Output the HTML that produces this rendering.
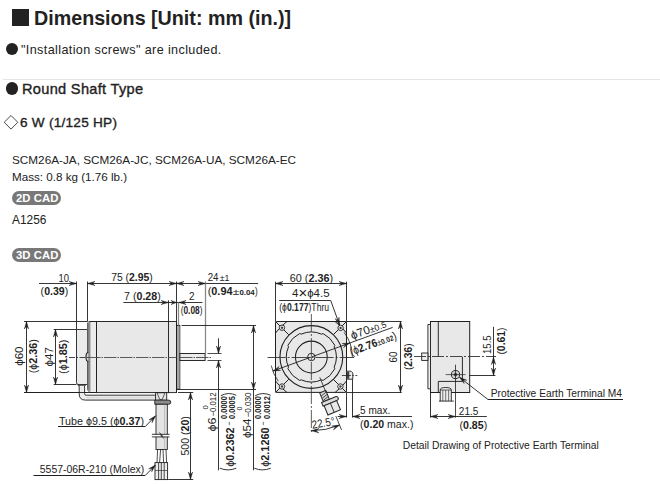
<!DOCTYPE html>
<html><head><meta charset="utf-8">
<style>
html,body{margin:0;padding:0;background:#fff;width:660px;height:486px;overflow:hidden;position:relative;font-family:"Liberation Sans",sans-serif;color:#222;}
.a{position:absolute;white-space:nowrap;line-height:1;}
.badge{position:absolute;width:49px;height:13.6px;border-radius:7px;background:#787878;color:#fff;font-size:11.3px;font-weight:bold;text-align:center;line-height:14.6px;letter-spacing:0.1px;text-indent:1.5px}
svg{position:absolute;left:0;top:0}
svg text{font-family:"Liberation Sans",sans-serif}
</style></head><body>
<div class="a" style="left:12px;top:9px;width:17px;height:17px;background:#222"></div>
<div class="a" style="left:34px;top:8.5px;font-size:19.7px;font-weight:bold;">Dimensions [Unit: mm (in.)]</div>
<div class="a" style="left:6px;top:43px;width:12px;height:12px;border-radius:50%;background:#222"></div>
<div class="a" style="left:21px;top:43.5px;font-size:12.6px;letter-spacing:0.38px">"Installation screws" are included.</div>
<div class="a" style="left:3px;top:79px;width:657px;height:1px;background:#e4e4e4"></div>
<div class="a" style="left:5.5px;top:82px;width:12.5px;height:12.5px;border-radius:50%;background:#222"></div>
<div class="a" style="left:22px;top:81.5px;font-size:14.6px;letter-spacing:0.3px;-webkit-text-stroke:0.35px #222">Round Shaft Type</div>
<div class="a" style="left:20px;top:116px;font-size:13.6px;letter-spacing:0.25px;-webkit-text-stroke:0.35px #222">6 W (1/125 HP)</div>
<div class="a" style="left:12px;top:154.4px;font-size:11.75px;">SCM26A-JA, SCM26A-JC, SCM26A-UA, SCM26A-EC</div>
<div class="a" style="left:12px;top:171px;font-size:11.65px;">Mass: 0.8 kg (1.76 lb.)</div>
<div class="badge" style="left:12px;top:191px;">2D CAD</div>
<div class="a" style="left:12px;top:215px;font-size:11.9px;">A1256</div>
<div class="badge" style="left:12px;top:248.2px;">3D CAD</div>
<svg width="660" height="486" viewBox="0 0 660 486">
<path d="M11 115.5 L17.8 122.3 L11 129.1 L4.2 122.3 Z" fill="none" stroke="#333" stroke-width="0.9"/>
<path d="M76.5 329.5 L87.5 329.5 L87.5 384.5 L78.2 384.5 Q76.5 384.5 76.5 382.6 Z" fill="#ebebeb" stroke="#1f1f1f" stroke-width="0.9" />
<path d="M87.5 322.8 L89 321.5 L96.5 321.5 L96.5 392.5 L89.6 392.5 L87.5 389.8 Z" fill="#ececec" stroke="#555" stroke-width="0.9" />
<line x1="89.00" y1="321.50" x2="96.50" y2="321.50" stroke="#1f1f1f" stroke-width="1.0" />
<line x1="89.60" y1="392.50" x2="96.50" y2="392.50" stroke="#1f1f1f" stroke-width="1.0" />
<line x1="96.50" y1="321.50" x2="96.50" y2="392.50" stroke="#1f1f1f" stroke-width="1.0" />
<defs><linearGradient id="fg" x1="0" x2="1" y1="0" y2="0"><stop offset="0" stop-color="#6a6a6a"/><stop offset="1" stop-color="#a8a8a8"/></linearGradient></defs>
<path d="M88.1 323.2 L89.3 321.8 L90.6 321.8 L90.6 391.8 L89.8 391.8 L88.1 389.6 Z" fill="url(#fg)"/>
<rect x="96.5" y="321.5" width="72.2" height="71.1" fill="#e8e8e8" stroke="#1f1f1f" stroke-width="0.95" rx="0"/>
<rect x="168.5" y="321.5" width="8.0" height="71.1" fill="#e9e9e9" stroke="#1f1f1f" stroke-width="0.9" rx="0"/>
<rect x="176.5" y="325.4" width="3.4" height="63.6" fill="#a4a4a4" stroke="#555" stroke-width="0.9" rx="0"/>
<line x1="176.50" y1="325.40" x2="180.00" y2="325.40" stroke="#1f1f1f" stroke-width="1.0" />
<line x1="176.50" y1="389.50" x2="180.00" y2="389.50" stroke="#1f1f1f" stroke-width="1.0" />
<line x1="176.50" y1="321.50" x2="176.50" y2="392.50" stroke="#1f1f1f" stroke-width="1.0" />
<rect x="179.9" y="353.5" width="25.2" height="7.0" fill="#ececec" stroke="#1f1f1f" stroke-width="0.95" rx="0"/>
<path d="M88.3 352.5 Q86.0 352.5 86.0 357 Q86.0 361.5 88.3 361.5" fill="#d8d8d8" stroke="#1f1f1f" stroke-width="1.1" />
<line x1="69.00" y1="357.50" x2="88.00" y2="357.50" stroke="#333" stroke-width="0.9" stroke-dasharray="6 1.5 1.5 1.5"/>
<line x1="88.00" y1="357.50" x2="176.50" y2="357.50" stroke="#4a4a4a" stroke-width="0.9" stroke-dasharray="12.5 1 1.5 1"/>
<line x1="180.00" y1="357.50" x2="212.00" y2="357.50" stroke="#4a4a4a" stroke-width="0.9" stroke-dasharray="12.5 1 1.5 1"/>
<line x1="39.00" y1="283.50" x2="76.50" y2="283.50" stroke="#1f1f1f" stroke-width="0.9" />
<line x1="87.50" y1="283.50" x2="258.10" y2="283.50" stroke="#1f1f1f" stroke-width="0.9" />
<line x1="76.50" y1="281.50" x2="76.50" y2="329.50" stroke="#1f1f1f" stroke-width="0.9" />
<line x1="87.50" y1="281.50" x2="87.50" y2="321.50" stroke="#1f1f1f" stroke-width="0.9" />
<line x1="176.50" y1="281.50" x2="176.50" y2="321.50" stroke="#1f1f1f" stroke-width="0.9" />
<line x1="205.50" y1="281.50" x2="205.50" y2="353.50" stroke="#8a8a8a" stroke-width="1.3" />
<path d="M76.50 283.50 L69.00 285.60 L72.00 283.50 L69.00 281.40 Z" fill="#1f1f1f" stroke="#1f1f1f" stroke-width="0.45"/>
<path d="M87.50 283.50 L95.00 281.40 L92.00 283.50 L95.00 285.60 Z" fill="#1f1f1f" stroke="#1f1f1f" stroke-width="0.45"/>
<path d="M176.50 283.50 L169.00 285.60 L172.00 283.50 L169.00 281.40 Z" fill="#1f1f1f" stroke="#1f1f1f" stroke-width="0.45"/>
<path d="M176.50 283.50 L184.00 281.40 L181.00 283.50 L184.00 285.60 Z" fill="#1f1f1f" stroke="#1f1f1f" stroke-width="0.45"/>
<path d="M205.50 283.50 L198.00 285.60 L201.00 283.50 L198.00 281.40 Z" fill="#1f1f1f" stroke="#1f1f1f" stroke-width="0.45"/>
<text x="58.4" y="281.5" font-size="11.5" font-weight="normal" fill="#222222" textLength="10.50" lengthAdjust="spacingAndGlyphs">10</text>
<text x="40.6" y="294.8" font-size="11.5" font-weight="normal" fill="#222222" textLength="27.60" lengthAdjust="spacingAndGlyphs">(<tspan font-weight="bold">0.39</tspan>)</text>
<text x="111.2" y="281.3" font-size="11.5" font-weight="normal" fill="#222222" textLength="41.50" lengthAdjust="spacingAndGlyphs">75 (<tspan font-weight="bold">2.95</tspan>)</text>
<text x="207.7" y="281.3" font-size="11.5" font-weight="normal" fill="#222222" textLength="10.80" lengthAdjust="spacingAndGlyphs">24</text>
<text x="219.7" y="281.3" font-size="8.5" font-weight="normal" fill="#222222" textLength="9.70" lengthAdjust="spacingAndGlyphs">±1</text>
<text x="207.7" y="295.1" font-size="11.5" font-weight="normal" fill="#222222" textLength="24.80" lengthAdjust="spacingAndGlyphs">(<tspan font-weight="bold">0.94</tspan></text>
<text x="232.7" y="295.1" font-size="8.5" font-weight="normal" fill="#222222" textLength="6.50" lengthAdjust="spacingAndGlyphs">±</text>
<text x="239.4" y="295.1" font-size="7.5" font-weight="normal" fill="#222222" textLength="15.30" lengthAdjust="spacingAndGlyphs"><tspan font-weight="bold">0.04</tspan></text>
<text x="254.9" y="295.1" font-size="11.5" font-weight="normal" fill="#222222" textLength="2.70" lengthAdjust="spacingAndGlyphs">)</text>
<line x1="123.40" y1="302.50" x2="202.50" y2="302.50" stroke="#1f1f1f" stroke-width="0.9" />
<line x1="168.50" y1="300.30" x2="168.50" y2="321.50" stroke="#1f1f1f" stroke-width="0.9" />
<line x1="178.50" y1="302.50" x2="178.50" y2="325.50" stroke="#8a8a8a" stroke-width="1.3" />
<path d="M168.50 302.50 L161.00 304.60 L164.00 302.50 L161.00 300.40 Z" fill="#1f1f1f" stroke="#1f1f1f" stroke-width="0.45"/>
<path d="M176.50 302.50 L171.00 304.60 L173.20 302.50 L171.00 300.40 Z" fill="#1f1f1f" stroke="#1f1f1f" stroke-width="0.45"/>
<path d="M178.60 302.50 L186.10 300.40 L183.10 302.50 L186.10 304.60 Z" fill="#1f1f1f" stroke="#1f1f1f" stroke-width="0.45"/>
<text x="124.1" y="300.3" font-size="11.5" font-weight="normal" fill="#222222" textLength="36.60" lengthAdjust="spacingAndGlyphs">7 (<tspan font-weight="bold">0.28</tspan>)</text>
<text x="188.9" y="300.3" font-size="11.5" font-weight="normal" fill="#222222" textLength="5.50" lengthAdjust="spacingAndGlyphs">2</text>
<text x="180.7" y="314.0" font-size="11.5" font-weight="normal" fill="#222222" textLength="21.80" lengthAdjust="spacingAndGlyphs">(<tspan font-weight="bold">0.08</tspan>)</text>
<line x1="24.00" y1="321.50" x2="87.50" y2="321.50" stroke="#1f1f1f" stroke-width="0.9" />
<line x1="53.70" y1="329.50" x2="76.50" y2="329.50" stroke="#1f1f1f" stroke-width="0.9" />
<line x1="24.00" y1="392.50" x2="87.50" y2="392.50" stroke="#1f1f1f" stroke-width="0.9" />
<line x1="53.70" y1="384.50" x2="76.50" y2="384.50" stroke="#1f1f1f" stroke-width="0.9" />
<line x1="26.50" y1="321.50" x2="26.50" y2="392.50" stroke="#1f1f1f" stroke-width="0.9" />
<path d="M26.50 321.50 L28.60 329.00 L26.50 326.00 L24.40 329.00 Z" fill="#1f1f1f" stroke="#1f1f1f" stroke-width="0.45"/>
<path d="M26.50 392.50 L24.40 385.00 L26.50 388.00 L28.60 385.00 Z" fill="#1f1f1f" stroke="#1f1f1f" stroke-width="0.45"/>
<line x1="55.50" y1="329.50" x2="55.50" y2="384.50" stroke="#1f1f1f" stroke-width="0.9" />
<path d="M55.50 329.50 L57.60 337.00 L55.50 334.00 L53.40 337.00 Z" fill="#1f1f1f" stroke="#1f1f1f" stroke-width="0.45"/>
<path d="M55.50 384.50 L53.40 377.00 L55.50 380.00 L57.60 377.00 Z" fill="#1f1f1f" stroke="#1f1f1f" stroke-width="0.45"/>
<text transform="translate(23.4,365.8) rotate(-90)" x="0" y="0" font-size="11.5" font-weight="normal" fill="#222222" textLength="19.30" lengthAdjust="spacingAndGlyphs">ϕ60</text>
<text transform="translate(36.9,373.3) rotate(-90)" x="0" y="0" font-size="11.5" font-weight="normal" fill="#222222" textLength="34.20" lengthAdjust="spacingAndGlyphs">(ϕ<tspan font-weight="bold">2.36</tspan>)</text>
<text transform="translate(52.8,366.4) rotate(-90)" x="0" y="0" font-size="11.5" font-weight="normal" fill="#222222" textLength="19.30" lengthAdjust="spacingAndGlyphs">ϕ47</text>
<text transform="translate(66.9,373.9) rotate(-90)" x="0" y="0" font-size="11.5" font-weight="normal" fill="#222222" textLength="34.30" lengthAdjust="spacingAndGlyphs">(ϕ<tspan font-weight="bold">1.85</tspan>)</text>
<line x1="207.50" y1="353.50" x2="221.50" y2="353.50" stroke="#1f1f1f" stroke-width="0.8" />
<line x1="207.50" y1="360.50" x2="221.50" y2="360.50" stroke="#1f1f1f" stroke-width="0.8" />
<line x1="218.50" y1="338.30" x2="218.50" y2="353.50" stroke="#1f1f1f" stroke-width="0.9" />
<path d="M218.50 353.50 L216.40 346.00 L218.50 349.00 L220.60 346.00 Z" fill="#1f1f1f" stroke="#1f1f1f" stroke-width="0.45"/>
<line x1="218.50" y1="360.50" x2="218.50" y2="470.30" stroke="#1f1f1f" stroke-width="0.9" />
<path d="M218.50 360.50 L220.60 368.00 L218.50 365.00 L216.40 368.00 Z" fill="#1f1f1f" stroke="#1f1f1f" stroke-width="0.45"/>
<line x1="181.60" y1="325.50" x2="256.00" y2="325.50" stroke="#1f1f1f" stroke-width="0.9" />
<line x1="179.90" y1="389.50" x2="256.00" y2="389.50" stroke="#1f1f1f" stroke-width="0.9" />
<line x1="253.50" y1="325.50" x2="253.50" y2="470.30" stroke="#1f1f1f" stroke-width="0.9" />
<path d="M253.50 325.50 L255.60 333.00 L253.50 330.00 L251.40 333.00 Z" fill="#1f1f1f" stroke="#1f1f1f" stroke-width="0.45"/>
<path d="M253.50 389.50 L251.40 382.00 L253.50 385.00 L255.60 382.00 Z" fill="#1f1f1f" stroke="#1f1f1f" stroke-width="0.45"/>
<rect x="77.8" y="384.5" width="7.9" height="1.4" fill="#333"/>
<path d="M79.2 385.8 L79.2 394 Q79.2 400.1 85.4 400.1 L156.4 400.1 L156.4 395.2 L86.2 395.2 Q84.6 395.2 84.6 393.6 L84.6 385.8" fill="#ececec" stroke="#1f1f1f" stroke-width="0.9" />
<line x1="86.00" y1="397.70" x2="156.00" y2="397.70" stroke="#c4c4c4" stroke-width="0.5" />
<line x1="24.00" y1="392.50" x2="90.00" y2="392.50" stroke="#1f1f1f" stroke-width="0.9" />
<rect x="155.6" y="392.5" width="11.1" height="7.8" fill="#e6e6e6" stroke="#1f1f1f" stroke-width="0.9" rx="0"/>
<path d="M157 392.8 L165 392.8 L162.2 399.6 L159.8 399.6 Z" fill="none" stroke="#1f1f1f" stroke-width="0.7" />
<path d="M154.8 400.1 L168.5 400.1 Q170.8 400.1 170.8 402.2 Q170.8 404.3 168.5 404.3 L154.8 404.3 Z" fill="#8a8a8a" stroke="#1f1f1f" stroke-width="0.9" />
<rect x="156" y="404.3" width="11.3" height="45.2" fill="#e4e4e4" stroke="#1f1f1f" stroke-width="0.9" rx="0"/>
<line x1="164.70" y1="404.30" x2="164.70" y2="449.50" stroke="#9a9a9a" stroke-width="0.6" />
<rect x="151" y="434.4" width="19.5" height="2.5" fill="#fff"/>
<line x1="151.90" y1="434.30" x2="169.50" y2="434.30" stroke="#1f1f1f" stroke-width="0.9" />
<line x1="151.90" y1="436.90" x2="169.50" y2="436.90" stroke="#1f1f1f" stroke-width="0.9" />
<path d="M159.4 432.5 L162.4 436 L160.8 435.6 L163.8 438.2" fill="none" stroke="#1f1f1f" stroke-width="0.9" />
<path d="M157.6 449.5 L157 462.6 M160.6 449.5 L159.6 462.6 M163 449.5 L163.6 462.6 M166 449.5 L166.6 462.6" fill="none" stroke="#1f1f1f" stroke-width="0.8" />
<rect x="155" y="462.6" width="12.6" height="17" fill="#eeeeee" stroke="#1f1f1f" stroke-width="0.9" rx="0"/>
<line x1="158.60" y1="462.60" x2="158.60" y2="479.60" stroke="#1f1f1f" stroke-width="0.8" />
<line x1="161.30" y1="462.60" x2="161.30" y2="479.60" stroke="#1f1f1f" stroke-width="0.8" />
<line x1="164.20" y1="462.60" x2="164.20" y2="479.60" stroke="#1f1f1f" stroke-width="0.8" />
<line x1="155.00" y1="470.50" x2="167.60" y2="470.50" stroke="#1f1f1f" stroke-width="0.6" />
<line x1="178.00" y1="392.50" x2="193.20" y2="392.50" stroke="#1f1f1f" stroke-width="0.9" />
<line x1="168.20" y1="479.50" x2="193.20" y2="479.50" stroke="#1f1f1f" stroke-width="0.9" />
<line x1="190.50" y1="392.50" x2="190.50" y2="479.50" stroke="#1f1f1f" stroke-width="0.9" />
<path d="M190.50 392.50 L192.60 400.00 L190.50 397.00 L188.40 400.00 Z" fill="#1f1f1f" stroke="#1f1f1f" stroke-width="0.45"/>
<path d="M190.50 479.50 L188.40 472.00 L190.50 475.00 L192.60 472.00 Z" fill="#1f1f1f" stroke="#1f1f1f" stroke-width="0.45"/>
<text transform="translate(188.5,455.5) rotate(-90)" x="0" y="0" font-size="11.5" font-weight="normal" fill="#222222" textLength="39.30" lengthAdjust="spacingAndGlyphs">500 (<tspan font-weight="bold">20</tspan>)</text>
<text transform="translate(215.8,431.6) rotate(-90)" x="0" y="0" font-size="11.5" font-weight="normal" fill="#222222" textLength="14.00" lengthAdjust="spacingAndGlyphs">ϕ6</text>
<text transform="translate(216.3,416.6) rotate(-90)" x="0" y="0" font-size="8.8" font-weight="normal" fill="#222222" textLength="24.10" lengthAdjust="spacingAndGlyphs">−0.012</text>
<text transform="translate(208.4,409.4) rotate(-90)" x="0" y="0" font-size="7.5" font-weight="normal" fill="#222222" textLength="4.20" lengthAdjust="spacingAndGlyphs">0</text>
<text transform="translate(234.2,466.8) rotate(-90)" x="0" y="0" font-size="11.5" font-weight="normal" fill="#222222" textLength="39.40" lengthAdjust="spacingAndGlyphs">ϕ<tspan font-weight="bold">0.2362</tspan></text>
<text transform="translate(232.0,425.6) rotate(-90)" x="0" y="0" font-size="9" font-weight="normal" fill="#222222" textLength="4.00" lengthAdjust="spacingAndGlyphs">−</text>
<text transform="translate(226.7,418.9) rotate(-90)" x="0" y="0" font-size="8.2" font-weight="normal" fill="#222222" textLength="22.70" lengthAdjust="spacingAndGlyphs"><tspan font-weight="bold">0.0000</tspan></text>
<text transform="translate(234.9,418.9) rotate(-90)" x="0" y="0" font-size="8.2" font-weight="normal" fill="#222222" textLength="22.70" lengthAdjust="spacingAndGlyphs"><tspan font-weight="bold">0.0005</tspan></text>
<path d="M219.9 468.2 Q228 471.6 236.3 468.2" fill="none" stroke="#1f1f1f" stroke-width="0.9" />
<path d="M220.8 395.7 Q228.5 391.6 236.3 395.3" fill="none" stroke="#1f1f1f" stroke-width="0.9" />
<text transform="translate(250.6,438.0) rotate(-90)" x="0" y="0" font-size="11.5" font-weight="normal" fill="#222222" textLength="19.40" lengthAdjust="spacingAndGlyphs">ϕ54</text>
<text transform="translate(251.3,417.6) rotate(-90)" x="0" y="0" font-size="8.8" font-weight="normal" fill="#222222" textLength="25.10" lengthAdjust="spacingAndGlyphs">−0.030</text>
<text transform="translate(241.7,410.4) rotate(-90)" x="0" y="0" font-size="7.5" font-weight="normal" fill="#222222" textLength="3.90" lengthAdjust="spacingAndGlyphs">0</text>
<text transform="translate(268.6,466.8) rotate(-90)" x="0" y="0" font-size="11.5" font-weight="normal" fill="#222222" textLength="39.40" lengthAdjust="spacingAndGlyphs">ϕ<tspan font-weight="bold">2.1260</tspan></text>
<text transform="translate(266.4,425.6) rotate(-90)" x="0" y="0" font-size="9" font-weight="normal" fill="#222222" textLength="4.00" lengthAdjust="spacingAndGlyphs">−</text>
<text transform="translate(261.3,418.9) rotate(-90)" x="0" y="0" font-size="8.2" font-weight="normal" fill="#222222" textLength="22.70" lengthAdjust="spacingAndGlyphs"><tspan font-weight="bold">0.0000</tspan></text>
<text transform="translate(269.5,418.9) rotate(-90)" x="0" y="0" font-size="8.2" font-weight="normal" fill="#222222" textLength="22.70" lengthAdjust="spacingAndGlyphs"><tspan font-weight="bold">0.0012</tspan></text>
<path d="M254.3 468.2 Q262.4 471.6 270.7 468.2" fill="none" stroke="#1f1f1f" stroke-width="0.9" />
<path d="M255.2 395.7 Q262.9 391.6 270.7 395.3" fill="none" stroke="#1f1f1f" stroke-width="0.9" />
<line x1="58.00" y1="426.50" x2="145.30" y2="426.50" stroke="#1f1f1f" stroke-width="1.1" />
<line x1="145.30" y1="426.50" x2="155.60" y2="415.80" stroke="#1f1f1f" stroke-width="0.9" />
<path d="M155.60 415.80 L152.02 422.72 L152.53 419.09 L148.95 419.85 Z" fill="#1f1f1f" stroke="#1f1f1f" stroke-width="0.45"/>
<text x="58.9" y="424.5" font-size="11.5" font-weight="normal" fill="#222222" textLength="85.10" lengthAdjust="spacingAndGlyphs">Tube ϕ9.5 (ϕ<tspan font-weight="bold">0.37</tspan>)</text>
<line x1="33.50" y1="475.50" x2="145.20" y2="475.50" stroke="#1f1f1f" stroke-width="1.1" />
<line x1="145.20" y1="475.50" x2="155.50" y2="465.00" stroke="#1f1f1f" stroke-width="0.9" />
<path d="M155.50 465.00 L151.68 471.79 L152.32 468.18 L148.71 468.82 Z" fill="#1f1f1f" stroke="#1f1f1f" stroke-width="0.45"/>
<text x="39.8" y="472.7" font-size="11.5" font-weight="normal" fill="#222222" textLength="104.40" lengthAdjust="spacingAndGlyphs">5557-06R-210 (Molex)</text>
<rect x="275.5" y="321.5" width="71.0" height="70.9" fill="#e8e8e8" stroke="#1f1f1f" stroke-width="1.0" rx="1.5"/>
<circle cx="311.35" cy="357.00" r="31.4" fill="none" stroke="#1f1f1f" stroke-width="1.1"/>
<path d="M301.18 334.16 A25.0 25.0 0 0 1 321.52 334.16 L323.04 333.55 A26.2 26.2 0 0 1 334.80 345.31 L334.19 346.83 A25.0 25.0 0 0 1 334.19 367.17 L334.80 368.69 A26.2 26.2 0 0 1 323.04 380.45 L321.52 379.84 A25.0 25.0 0 0 1 301.18 379.84 L299.66 380.45 A26.2 26.2 0 0 1 287.90 368.69 L288.51 367.17 A25.0 25.0 0 0 1 288.51 346.83 L287.90 345.31 A26.2 26.2 0 0 1 299.66 333.55 L301.18 334.16 Z" fill="none" stroke="#1f1f1f" stroke-width="1.0" />
<circle cx="311.35" cy="357.00" r="15.9" fill="none" stroke="#1f1f1f" stroke-width="1.05"/>
<circle cx="311.35" cy="357.00" r="3.7" fill="#f0f0f0" stroke="#1f1f1f" stroke-width="0.95"/>
<line x1="275.50" y1="321.50" x2="288.80" y2="334.80" stroke="#1f1f1f" stroke-width="1.0" />
<path d="M287.00 321.50 Q280.50 326.50 275.50 333.00" fill="none" stroke="#1f1f1f" stroke-width="1.0" />
<circle cx="282.00" cy="327.70" r="2.7" fill="#eeeeee" stroke="#333" stroke-width="1.0"/>
<circle cx="282.00" cy="327.70" r="1.0" fill="#333" stroke="#1f1f1f" stroke-width="0.3"/>
<line x1="346.50" y1="321.50" x2="333.20" y2="334.80" stroke="#1f1f1f" stroke-width="1.0" />
<path d="M335.00 321.50 Q341.50 326.50 346.50 333.00" fill="none" stroke="#1f1f1f" stroke-width="1.0" />
<circle cx="340.60" cy="327.90" r="2.7" fill="#eeeeee" stroke="#333" stroke-width="1.0"/>
<circle cx="340.60" cy="327.90" r="1.0" fill="#333" stroke="#1f1f1f" stroke-width="0.3"/>
<line x1="275.50" y1="392.50" x2="288.80" y2="379.20" stroke="#1f1f1f" stroke-width="1.0" />
<path d="M287.00 392.50 Q280.50 387.50 275.50 381.00" fill="none" stroke="#1f1f1f" stroke-width="1.0" />
<circle cx="282.00" cy="386.50" r="2.7" fill="#eeeeee" stroke="#333" stroke-width="1.0"/>
<circle cx="282.00" cy="386.50" r="1.0" fill="#333" stroke="#1f1f1f" stroke-width="0.3"/>
<line x1="346.50" y1="392.50" x2="333.20" y2="379.20" stroke="#1f1f1f" stroke-width="1.0" />
<path d="M335.00 392.50 Q341.50 387.50 346.50 381.00" fill="none" stroke="#1f1f1f" stroke-width="1.0" />
<circle cx="340.40" cy="386.50" r="2.7" fill="#eeeeee" stroke="#333" stroke-width="1.0"/>
<circle cx="340.40" cy="386.50" r="1.0" fill="#333" stroke="#1f1f1f" stroke-width="0.3"/>
<line x1="311.35" y1="314.00" x2="311.35" y2="432.40" stroke="#333" stroke-width="0.8" stroke-dasharray="18 2 2 2"/>
<line x1="267.60" y1="357.50" x2="354.10" y2="357.50" stroke="#333" stroke-width="0.9" stroke-dasharray="18 2 2 2"/>
<line x1="275.50" y1="281.70" x2="275.50" y2="321.50" stroke="#1f1f1f" stroke-width="0.9" />
<line x1="346.50" y1="281.70" x2="346.50" y2="321.50" stroke="#1f1f1f" stroke-width="0.9" />
<line x1="275.50" y1="283.50" x2="346.50" y2="283.50" stroke="#1f1f1f" stroke-width="0.9" />
<path d="M275.50 283.50 L283.00 281.40 L280.00 283.50 L283.00 285.60 Z" fill="#1f1f1f" stroke="#1f1f1f" stroke-width="0.45"/>
<path d="M346.50 283.50 L339.00 285.60 L342.00 283.50 L339.00 281.40 Z" fill="#1f1f1f" stroke="#1f1f1f" stroke-width="0.45"/>
<text x="289.8" y="281.6" font-size="11.5" font-weight="normal" fill="#222222" textLength="43.30" lengthAdjust="spacingAndGlyphs">60 (<tspan font-weight="bold">2.36</tspan>)</text>
<text x="292.0" y="297.2" font-size="11.5" font-weight="normal" fill="#222222" textLength="37.60" lengthAdjust="spacingAndGlyphs">4<tspan font-size="15" dy="0.8">×</tspan><tspan dy="-0.8">ϕ4.5</tspan></text>
<text x="279.2" y="311.0" font-size="11.5" font-weight="normal" fill="#222222" textLength="49.90" lengthAdjust="spacingAndGlyphs">(ϕ<tspan font-weight="bold">0.177</tspan>)Thru</text>
<line x1="279.20" y1="300.50" x2="330.70" y2="300.50" stroke="#1f1f1f" stroke-width="0.9" />
<line x1="330.70" y1="300.50" x2="339.60" y2="325.00" stroke="#1f1f1f" stroke-width="0.9" />
<path d="M339.60 325.00 L335.11 318.64 L338.09 320.76 L339.06 317.23 Z" fill="#1f1f1f" stroke="#1f1f1f" stroke-width="0.45"/>
<line x1="346.50" y1="321.50" x2="401.70" y2="321.50" stroke="#1f1f1f" stroke-width="0.9" />
<line x1="346.50" y1="392.50" x2="401.70" y2="392.50" stroke="#1f1f1f" stroke-width="0.9" />
<line x1="400.50" y1="321.50" x2="400.50" y2="392.50" stroke="#1f1f1f" stroke-width="0.9" />
<path d="M400.50 321.50 L402.60 329.00 L400.50 326.00 L398.40 329.00 Z" fill="#1f1f1f" stroke="#1f1f1f" stroke-width="0.45"/>
<path d="M400.50 392.50 L398.40 385.00 L400.50 388.00 L402.60 385.00 Z" fill="#1f1f1f" stroke="#1f1f1f" stroke-width="0.45"/>
<text transform="translate(397.0,362.4) rotate(-90)" x="0" y="0" font-size="11.5" font-weight="normal" fill="#222222" textLength="10.80" lengthAdjust="spacingAndGlyphs">60</text>
<text transform="translate(411.6,370.1) rotate(-90)" x="0" y="0" font-size="11.5" font-weight="normal" fill="#222222" textLength="26.70" lengthAdjust="spacingAndGlyphs">(<tspan font-weight="bold">2.36</tspan>)</text>
<line x1="272.82" y1="371.02" x2="392.63" y2="327.42" stroke="#1f1f1f" stroke-width="0.9" />
<path d="M272.82 371.02 L279.15 366.48 L277.05 369.48 L280.59 370.43 Z" fill="#1f1f1f" stroke="#1f1f1f" stroke-width="0.45"/>
<path d="M349.88 342.98 L343.55 347.52 L345.65 344.52 L342.11 343.57 Z" fill="#1f1f1f" stroke="#1f1f1f" stroke-width="0.45"/>
<path d="M344.09 332.33 A41.0 41.0 0 0 1 352.35 357.00" fill="none" stroke="#1f1f1f" stroke-width="0.8" />
<path d="M278.18 381.10 A41.0 41.0 0 0 1 271.25 365.52" fill="none" stroke="#1f1f1f" stroke-width="0.8" />
<text transform="translate(352.30,339.60) rotate(-20.0)" x="0" y="0" font-size="11.5" font-weight="normal" fill="#222222" textLength="37" lengthAdjust="spacingAndGlyphs">ϕ70<tspan font-size="8.5">±0.5</tspan></text>
<text transform="translate(351.30,355.60) rotate(-20.0)" x="0" y="0" font-size="11.5" font-weight="normal" fill="#222222" textLength="49" lengthAdjust="spacingAndGlyphs">(ϕ<tspan font-weight="bold">2.76</tspan><tspan font-size="8.5">±</tspan><tspan font-size="7.5" font-weight="bold">0.02</tspan>)</text>
<path d="M346.5 371.2 L351 371.2 L352.8 373 L352.8 379.2 L346.5 379.2 Z" fill="#eeeeee" stroke="#1f1f1f" stroke-width="0.9" />
<rect x="347" y="371.8" width="2.3" height="7" fill="#444"/>
<line x1="341.90" y1="375.50" x2="357.30" y2="375.50" stroke="#1f1f1f" stroke-width="0.8" stroke-dasharray="9 1.5 1.5 1.5"/>
<line x1="346.50" y1="392.50" x2="346.50" y2="417.60" stroke="#1f1f1f" stroke-width="0.9" />
<line x1="352.50" y1="379.20" x2="352.50" y2="417.60" stroke="#1f1f1f" stroke-width="0.9" />
<line x1="337.70" y1="416.50" x2="346.50" y2="416.50" stroke="#1f1f1f" stroke-width="0.9" />
<line x1="352.50" y1="416.50" x2="412.00" y2="416.50" stroke="#1f1f1f" stroke-width="0.9" />
<path d="M346.50 416.50 L339.00 418.60 L342.00 416.50 L339.00 414.40 Z" fill="#1f1f1f" stroke="#1f1f1f" stroke-width="0.45"/>
<path d="M352.50 416.50 L360.00 414.40 L357.00 416.50 L360.00 418.60 Z" fill="#1f1f1f" stroke="#1f1f1f" stroke-width="0.45"/>
<text x="360.1" y="413.8" font-size="11.5" font-weight="normal" fill="#222222" textLength="30.20" lengthAdjust="spacingAndGlyphs">5 max.</text>
<text x="360.1" y="427.8" font-size="11.5" font-weight="normal" fill="#222222" textLength="53.30" lengthAdjust="spacingAndGlyphs">(<tspan font-weight="bold">0.20</tspan> max.)</text>
<g transform="translate(325.6,391.6) rotate(-22.5)"><rect x="-6.0" y="-1" width="6.6" height="9.5" fill="#d6d6d6" stroke="#1f1f1f" stroke-width="0.9"/><path d="M-6 2.5 L0.6 0.5 M-6 5 L0.6 3 M-6 7.5 L0.6 5.5" stroke="#1f1f1f" stroke-width="0.7"/><path d="M-7.9 8.5 L7.2 8.5 Q9.2 8.5 9.2 10.5 Q9.2 12.5 7.2 12.5 L-7.9 12.5 Z" fill="#dcdcdc" stroke="#262626" stroke-width="1"/><rect x="-6.8" y="12.5" width="13.6" height="10" fill="#e8e8e8" stroke="#262626" stroke-width="1"/><line x1="0" y1="12.5" x2="0" y2="22.5" stroke="#262626" stroke-width="0.9"/></g>
<line x1="319.77" y1="377.33" x2="325.89" y2="392.11" stroke="#1f1f1f" stroke-width="0.8" />
<line x1="335.84" y1="416.13" x2="341.58" y2="429.99" stroke="#1f1f1f" stroke-width="0.8" />
<path d="M311.35 430.7 A73.7 73.7 0 0 0 339.55 425.09" fill="none" stroke="#1f1f1f" stroke-width="0.9" />
<path d="M311.35 430.70 L318.85 428.60 L315.85 430.70 L318.85 432.80 Z" fill="#1f1f1f" stroke="#1f1f1f" stroke-width="0.45"/>
<path d="M339.55 425.09 L333.43 429.90 L335.40 426.81 L331.82 426.02 Z" fill="#1f1f1f" stroke="#1f1f1f" stroke-width="0.45"/>
<text transform="translate(312.60,428.80) rotate(-10)" x="0" y="0" font-size="11.5" font-weight="normal" fill="#222222" textLength="23" lengthAdjust="spacingAndGlyphs">22.5°</text>
<rect x="430.5" y="321.5" width="39.2" height="71.0" fill="#e8e8e8" stroke="#1f1f1f" stroke-width="1.0" rx="0"/>
<path d="M427.9 324.5 L430.5 324.5 L430.5 388.8 L427.9 388.8 Z" fill="#f0f0f0" stroke="#1f1f1f" stroke-width="0.9" />
<rect x="421.7" y="353.0" width="6.2" height="7.4" fill="#eeeeee" stroke="#1f1f1f" stroke-width="0.9" rx="0"/>
<path d="M438.3 321.5 L438.3 356.7 M462.4 356.7 L462.4 381.4 L438.3 381.4 L438.3 392.5" fill="none" stroke="#1f1f1f" stroke-width="0.95" />
<line x1="414.00" y1="356.50" x2="496.00" y2="356.50" stroke="#333" stroke-width="0.9" stroke-dasharray="12 2 2 2"/>
<circle cx="455.50" cy="374.60" r="4.1" fill="#d8d8d8" stroke="#1f1f1f" stroke-width="0.95"/>
<circle cx="455.50" cy="374.60" r="1.6" fill="#555" stroke="#1f1f1f" stroke-width="0.4"/>
<line x1="445.70" y1="374.60" x2="465.50" y2="374.60" stroke="#1f1f1f" stroke-width="0.7" />
<line x1="455.50" y1="364.70" x2="455.50" y2="417.70" stroke="#1f1f1f" stroke-width="0.8" />
<path d="M440.2 401.1 L440.2 390 Q440.2 387.5 445.7 387.5 Q451.3 387.5 451.3 390 L451.3 401.1" fill="#eeeeee" stroke="#1f1f1f" stroke-width="0.9" />
<line x1="440.20" y1="390.00" x2="451.30" y2="390.00" stroke="#1f1f1f" stroke-width="0.7" />
<line x1="439.00" y1="401.10" x2="453.80" y2="401.10" stroke="#1f1f1f" stroke-width="0.9" />
<line x1="442.80" y1="390.00" x2="442.80" y2="401.00" stroke="#1f1f1f" stroke-width="0.6" />
<line x1="445.70" y1="390.00" x2="445.70" y2="401.00" stroke="#1f1f1f" stroke-width="0.6" />
<line x1="448.60" y1="390.00" x2="448.60" y2="401.00" stroke="#1f1f1f" stroke-width="0.6" />
<line x1="469.50" y1="375.50" x2="495.40" y2="375.50" stroke="#1f1f1f" stroke-width="0.9" />
<line x1="493.50" y1="326.80" x2="493.50" y2="375.50" stroke="#1f1f1f" stroke-width="0.9" />
<path d="M493.50 357.00 L495.60 364.50 L493.50 361.50 L491.40 364.50 Z" fill="#1f1f1f" stroke="#1f1f1f" stroke-width="0.45"/>
<path d="M493.50 375.50 L491.40 368.00 L493.50 371.00 L495.60 368.00 Z" fill="#1f1f1f" stroke="#1f1f1f" stroke-width="0.45"/>
<text transform="translate(491.0,354.0) rotate(-90)" x="0" y="0" font-size="11.5" font-weight="normal" fill="#222222" textLength="18.60" lengthAdjust="spacingAndGlyphs">15.5</text>
<text transform="translate(504.6,354.6) rotate(-90)" x="0" y="0" font-size="11.5" font-weight="normal" fill="#222222" textLength="27.20" lengthAdjust="spacingAndGlyphs">(<tspan font-weight="bold">0.61</tspan>)</text>
<line x1="430.50" y1="392.50" x2="430.50" y2="417.70" stroke="#1f1f1f" stroke-width="0.9" />
<line x1="430.50" y1="416.50" x2="486.80" y2="416.50" stroke="#1f1f1f" stroke-width="0.9" />
<path d="M430.50 416.50 L438.00 414.40 L435.00 416.50 L438.00 418.60 Z" fill="#1f1f1f" stroke="#1f1f1f" stroke-width="0.45"/>
<path d="M455.50 416.50 L448.00 418.60 L451.00 416.50 L448.00 414.40 Z" fill="#1f1f1f" stroke="#1f1f1f" stroke-width="0.45"/>
<text x="458.8" y="414.7" font-size="11.5" font-weight="normal" fill="#222222" textLength="19.60" lengthAdjust="spacingAndGlyphs">21.5</text>
<text x="459.5" y="428.7" font-size="11.5" font-weight="normal" fill="#222222" textLength="27.70" lengthAdjust="spacingAndGlyphs">(<tspan font-weight="bold">0.85</tspan>)</text>
<line x1="459.50" y1="377.30" x2="488.00" y2="399.50" stroke="#1f1f1f" stroke-width="0.9" />
<line x1="488.00" y1="399.50" x2="623.00" y2="399.50" stroke="#1f1f1f" stroke-width="1.1" />
<path d="M459.50 377.30 L466.73 380.20 L463.07 380.04 L464.17 383.53 Z" fill="#1f1f1f" stroke="#1f1f1f" stroke-width="0.45"/>
<text x="490.8" y="397.1" font-size="11.6" font-weight="normal" fill="#222222" textLength="131.20" lengthAdjust="spacingAndGlyphs">Protective Earth Terminal M4</text>
<text x="402.8" y="449.3" font-size="11.6" font-weight="normal" fill="#222222" textLength="196.00" lengthAdjust="spacingAndGlyphs">Detail Drawing of Protective Earth Terminal</text>
</svg>
</body></html>
